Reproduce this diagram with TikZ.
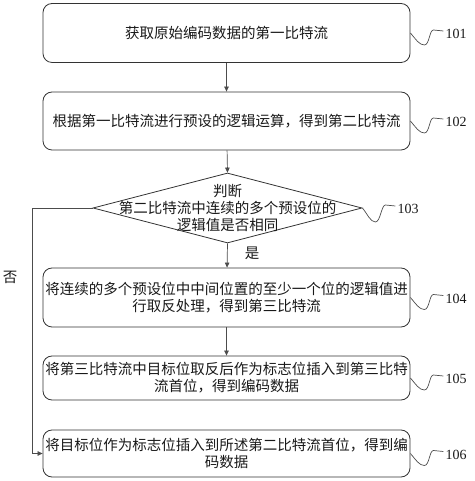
\documentclass[tikz,border=0pt]{standalone}
\usepackage{fontspec}
\newfontfamily\cjk{Noto Sans CJK SC}
\setmainfont{Liberation Serif}
\usetikzlibrary{shapes.geometric,arrows.meta,calc}
\begin{document}
\begin{tikzpicture}[x=1pt,y=1pt,
  conn/.style={draw=black!70,line width=0.7pt},
  arr/.style={conn,-{Triangle[length=5pt,width=4.5pt]}},
  stepbox/.style={draw=black!80,line width=0.8pt,rounded corners=9pt,minimum width=367pt,inner sep=0pt,align=center,
     font={\cjk\fontsize{14.5}{17}\selectfont},text=black!90},
  lbl/.style={anchor=west,inner sep=2pt,font={\fontsize{14}{16}\selectfont},text=black!90},
  txt/.style={inner sep=0pt,align=center,font={\cjk\fontsize{14.5}{17}\selectfont},text=black!90}]
\useasboundingbox (0,0) rectangle (474,481);
\newcommand{\wavelink}[2]{\draw[conn] (#1) .. controls +(6,-7) and +(-5,0) .. ($(#1)+(14,-12)$) .. controls +(5,0) and +(-4,0) .. ($(#1)+(23,3)$) -- ($(#2.west)+(0,3)$);}
\node[stepbox,minimum height=59pt] (b1) at (226.5,448) {获取原始编码数据的第一比特流};
\node[stepbox,minimum height=58pt] (b2) at (226.5,360) {根据第一比特流进行预设的逻辑运算，得到第二比特流};
\node[draw=black!80,line width=0.8pt,diamond,minimum width=269pt,minimum height=70pt,inner sep=0pt] (d) at (227.5,273) {};
\node[txt] (dt) at (227.5,273) {判断\\第二比特流中连续的多个预设位的\\逻辑值是否相同};
\node[stepbox,minimum height=59pt] (b4) at (226.5,183.5) {将连续的多个预设位中中间位置的至少一个位的逻辑值进\\行取反处理，得到第三比特流};
\node[stepbox,minimum height=44pt] (b5) at (226.5,103) {将第三比特流中目标位取反后作为标志位插入到第三比特\\流首位，得到编码数据};
\node[stepbox,minimum height=47pt] (b6) at (226.5,27.5) {将目标位作为标志位插入到所述第二比特流首位，得到编\\码数据};
\node[txt] (yes) at (252,228) {是};
\node[txt] (no) at (10,204) {否};
\draw[arr] (b1) -- (b2);
\draw[arr] (b2) -- (d.north);
\draw[arr] (d.south) -- (b4);
\draw[arr] (b4) -- (b5);
\coordinate (nc) at (32,273);
\draw[arr] (d.west) -- (nc) |- (b6.west);
\node[lbl] (l1) at ($(b1.east)+(33,-1)$) {101};
\node[lbl] (l2) at ($(b2.east)+(33,-1)$) {102};
\node[lbl] (l3) at ($(d.east)+(33,-1)$) {103};
\node[lbl] (l4) at ($(b4.east)+(33,-1)$) {104};
\node[lbl] (l5) at ($(b5.east)+(33,-1)$) {105};
\node[lbl] (l6) at ($(b6.east)+(33,-1)$) {106};
\wavelink{b1.east}{l1}
\wavelink{b2.east}{l2}
\draw[conn] (d.east) .. controls +(5,-6) and +(-5,0) .. ($(d.east)+(13,-14)$) .. controls +(5,0) and +(-4,0) .. ($(d.east)+(23,3)$) -- ($(l3.west)+(0,3)$);
\wavelink{b4.east}{l4}
\wavelink{b5.east}{l5}
\wavelink{b6.east}{l6}
\end{tikzpicture}
\end{document}
